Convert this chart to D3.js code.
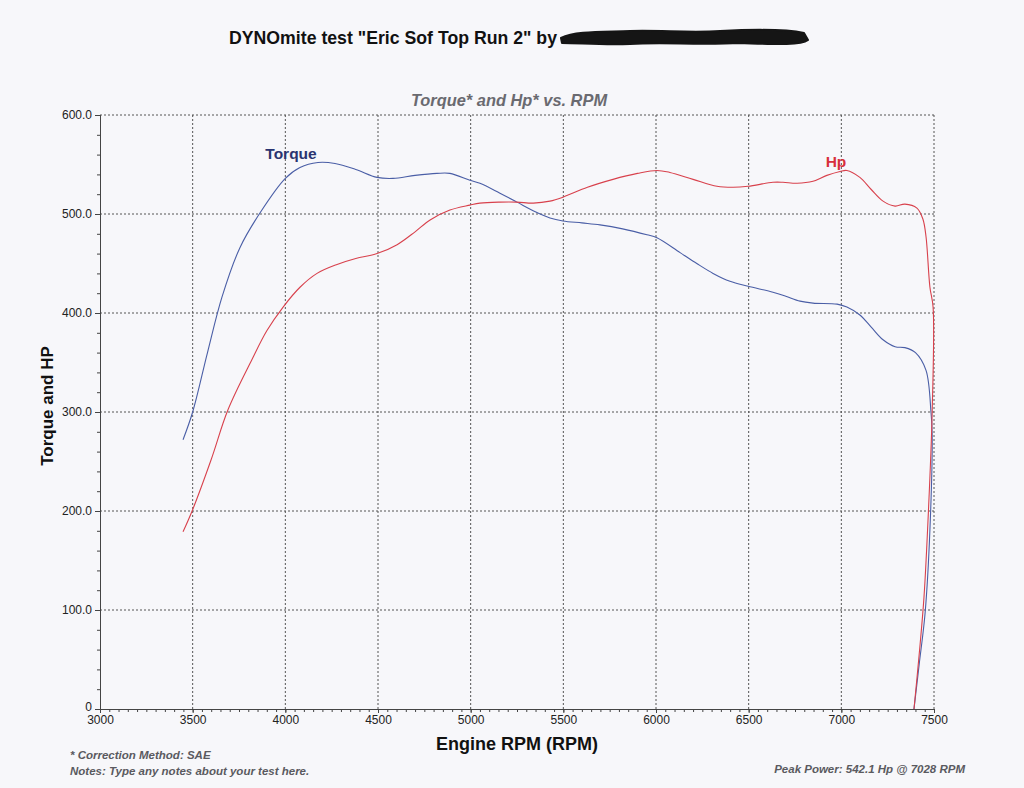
<!DOCTYPE html>
<html><head><meta charset="utf-8">
<script src="https://cdn.jsdelivr.net/npm/d3@7"></script>
<style>
html,body{margin:0;padding:0;background:#f7f7fa;}
svg{display:block;font-family:"Liberation Sans",Arial,sans-serif;}
</style></head>
<body>
<svg id="c" width="1024" height="788"></svg>
<script>
const titleText = 'DYNOmite test "Eric Sof Top Run 2" by';
const subtitleText = "Torque* and Hp* vs. RPM";
const xTicks = [3000,3500,4000,4500,5000,5500,6000,6500,7000,7500];
const yTicks = [0,100,200,300,400,500,600];

const torqueRpm = [3448,3500,3580,3658,3755,3863,4000,4079,4176,4268,4380,4495,4581,4700,4818,4888,4996,5050,5158,5250,5340,5428,5498,5600,5698,5820,5951,6005,6130,6220,6308,6399,6497,6631,6700,6777,6847,6977,7030,7100,7160,7225,7290,7343,7400,7457,7484,7490,7478,7452,7420,7392];
const torqueVal = [272,300,360,416,466,501,536,547,552,551,545,537,536,539,541,541,534,531,521,512,503,496,493,491,489,485,479,476,461,450,440,432,427,421,417,412,410,409,406,398,386,373,366,365,360,342,299,279,181,97,45,0];

const hpRpm = [3448,3497,3600,3690,3820,3900,3988,4079,4171,4279,4380,4495,4603,4700,4781,4888,4996,5050,5158,5250,5338,5428,5498,5630,5768,5900,6005,6075,6200,6329,6416,6497,6631,6685,6761,6847,6922,6993,7030,7100,7160,7225,7290,7343,7408,7440,7457,7478,7495,7490,7470,7446,7420,7392];
const hpVal = [179,200,252,302,353,382,406,426,440,449,455,460,469,482,494,504,509,511,512,512,511,513,517,527,535,541,544,542,535,528,527,528,532,532,531,533,539,543,544,537,525,513,508,510,506,495,477,426,406,299,200,113,55,0];

const svg = d3.select("#c");
const x = d3.scaleLinear().domain([3000,7500]).range([100,934]);
const y = d3.scaleLinear().domain([0,600]).range([709,115]);

// grid
const g = svg.append("g");
g.selectAll(".vg").data(xTicks.filter(d=>d>3000)).join("line")
  .attr("x1",d=>x(d)).attr("x2",d=>x(d)).attr("y1",y(0)).attr("y2",y(600))
  .attr("stroke","#555").attr("stroke-width",1).attr("stroke-dasharray","2,2");
g.selectAll(".hg").data(yTicks.filter(d=>d>0)).join("line")
  .attr("x1",x(3000)).attr("x2",x(7500)).attr("y1",d=>y(d)).attr("y2",d=>y(d))
  .attr("stroke","#555").attr("stroke-width",1).attr("stroke-dasharray","2,2");

// axes
const xAxis = d3.axisBottom(x).tickValues(xTicks).tickSize(4).tickFormat(d3.format("d"));
const xMinor = d3.axisBottom(x).tickValues(d3.range(3000,7501,50)).tickSize(3).tickFormat("");
const yAxis = d3.axisLeft(y).tickValues(yTicks).tickSize(5).tickFormat(d=>d===0?"0":d.toFixed(1));
const yMinor = d3.axisLeft(y).tickValues(d3.range(0,601,20)).tickSize(3).tickFormat("");

function style(sel){
  sel.select(".domain").attr("stroke","#444");
  sel.selectAll(".tick line").attr("stroke","#444");
  sel.selectAll("text").attr("fill","#222").style("font-size","12px").style("font-family","'Liberation Sans',Arial,sans-serif");
}
svg.append("g").attr("transform",`translate(0,${y(0)})`).call(xMinor).call(style);
svg.append("g").attr("transform",`translate(0,${y(0)})`).call(xAxis).call(style).selectAll("text").attr("y",6).attr("dy","0.75em");
svg.append("g").attr("transform",`translate(${x(3000)},0)`).call(yMinor).call(style);
const ya = svg.append("g").attr("transform",`translate(${x(3000)},0)`).call(yAxis).call(style);
ya.selectAll(".tick").filter(d=>d===0).select("text").attr("dy","0.1em");

// lines
const line = d3.line().x(d=>x(d[0])).y(d=>y(d[1])).curve(d3.curveCatmullRom.alpha(0.5));
svg.append("path").datum(torqueRpm.map((r,i)=>[r,torqueVal[i]]))
  .attr("d",line).attr("fill","none").attr("stroke","#4a5ea6").attr("stroke-width",1.1);
svg.append("path").datum(hpRpm.map((r,i)=>[r,hpVal[i]]))
  .attr("d",line).attr("fill","none").attr("stroke","#d8414c").attr("stroke-width",1.1);

// series labels
svg.append("text").attr("x",291).attr("y",159).attr("text-anchor","middle")
  .attr("font-weight","bold").attr("font-size","15.5px").attr("fill","#2a3470").text("Torque");
svg.append("text").attr("x",836).attr("y",167).attr("text-anchor","middle")
  .attr("font-weight","bold").attr("font-size","15.5px").attr("fill","#d8303c").text("Hp");

// titles
svg.append("text").attr("x",229).attr("y",44)
  .attr("font-weight","bold").attr("font-size","17.7px").attr("fill","#111").text(titleText);
// redaction scribble
svg.append("path")
  .attr("d","M561,38 C575,31 600,32 630,31 C660,30 690,33 720,31 C760,29 790,30 804,33 L808,40 C800,46 770,44 740,43 C700,45 660,42 630,44 C600,45 580,43 562,43 Z")
  .attr("fill","#151515").attr("stroke","#151515").attr("stroke-width",2).attr("stroke-linejoin","round");

svg.append("text").attr("x",509).attr("y",106).attr("text-anchor","middle")
  .attr("font-style","italic").attr("font-weight","bold").attr("font-size","16.4px").attr("fill","#6a6a70").text(subtitleText);

svg.append("text").attr("transform","translate(53,406) rotate(-90)").attr("text-anchor","middle")
  .attr("font-weight","bold").attr("font-size","17px").attr("fill","#111").text("Torque and HP");
svg.append("text").attr("x",517).attr("y",750).attr("text-anchor","middle")
  .attr("font-weight","bold").attr("font-size","18px").attr("fill","#111").text("Engine RPM (RPM)");

// notes
const note = (t,xx,yy,anchor)=>svg.append("text").attr("x",xx).attr("y",yy).attr("text-anchor",anchor||"start")
  .attr("font-style","italic").attr("font-weight","bold").attr("font-size","11.5px").attr("fill","#5a5a60").text(t);
note("* Correction Method: SAE",70,759);
note("Notes: Type any notes about your test here.",70,775);
note("Peak Power: 542.1 Hp @ 7028 RPM",965,773,"end");
</script>
</body></html>
